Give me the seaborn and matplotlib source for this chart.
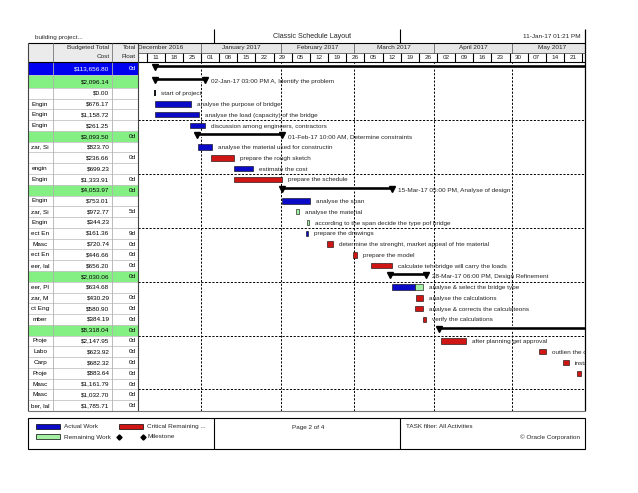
import numpy as np
import pandas as pd
import matplotlib
matplotlib.use("Agg")
import matplotlib.pyplot as plt
import matplotlib.dates as mdates
import matplotlib.transforms as mtransforms
from matplotlib.patches import Rectangle
import seaborn as sns

sns.set_theme(style="white")
plt.rcParams['font.family'] = ['Liberation Sans', 'DejaVu Sans']

# ---------------- data ----------------
resources = ["", "", "", "Engin", "Engin", "Engin", "", "zar, Si", "", "engin", "Engin", "",
             "Engin", "zar, Si", "Engin", "ect En", "Masc", "ect En", "eer, lal", "",
             "eer, Pl", "zar, M", "ct Eng", "mber", "", "Proje", "Labo", "Carp", "Proje",
             "Masc", "Masc", "ber, lal"]
costs = ["$113,656.80", "$2,096.14", "$0.00", "$676.17", "$1,158.72", "$261.25", "$3,093.50",
         "$823.70", "$236.66", "$699.23", "$1,333.91", "$4,053.97", "$753.01", "$972.77",
         "$344.23", "$161.36", "$720.74", "$446.66", "$656.20", "$2,030.06", "$634.68",
         "$430.29", "$580.90", "$384.19", "$8,318.04", "$2,147.95", "$623.92", "$682.32",
         "$883.64", "$1,161.79", "$1,032.70", "$1,785.71"]
floats = ["0d", "", "", "", "", "", "0d", "", "0d", "", "0d", "0d", "", "5d", "", "9d",
          "0d", "0d", "0d", "0d", "", "0d", "0d", "0d", "0d", "0d", "0d", "0d", "0d",
          "0d", "0d", "0d"]
kinds = ["project", "summary", "milestone", "actual", "actual", "actual", "summary", "actual",
         "critical", "actual", "critical", "summary", "actual", "remaining", "remaining",
         "actual", "critical", "critical", "critical", "summary", "actual", "critical",
         "critical", "critical", "summary", "critical", "critical", "critical", "critical",
         None, None, None]
starts = ["2016-12-14 08:00", "2016-12-14 08:00", "2016-12-14 08:00", "2016-12-14 08:00",
          "2016-12-14 08:00", "2016-12-27 18:00", "2016-12-30 12:00", "2016-12-30 20:00",
          "2017-01-04 21:00", "2017-01-13 17:00", "2017-01-13 17:00", "2017-02-01 10:00",
          "2017-02-01 10:00", "2017-02-06 14:00", "2017-02-10 21:00", "2017-02-10 12:00",
          "2017-02-18 14:00", "2017-02-28 14:00", "2017-03-07 14:00", "2017-03-14 22:00",
          "2017-03-15 17:00", "2017-03-24 22:00", "2017-03-24 12:00", "2017-03-27 16:00",
          "2017-04-02 19:00", "2017-04-03 13:00", "2017-05-11 08:00", "2017-05-20 14:00",
          "2017-05-26 00:00", None, None, None]
finishes = ["2017-06-30 17:00", "2017-01-02 15:00", "2016-12-14 08:00", "2016-12-28 03:00",
            "2016-12-31 05:00", "2017-01-02 15:00", "2017-02-01 10:00", "2017-01-05 06:00",
            "2017-01-13 17:00", "2017-01-21 01:00", "2017-02-01 10:00", "2017-03-15 17:00",
            "2017-02-12 01:00", "2017-02-07 19:00", "2017-02-11 19:00", "2017-02-11 07:00",
            "2017-02-20 22:00", "2017-03-02 05:00", "2017-03-15 17:00", "2017-03-28 18:00",
            "2017-03-27 14:00", "2017-03-27 14:00", "2017-03-27 16:00", "2017-03-28 18:00",
            "2017-06-30 17:00", "2017-04-13 05:00", "2017-05-14 01:00", "2017-05-22 22:00",
            "2017-05-27 12:00", None, None, None]
remaining_from = [None] * 20 + ["2017-03-24 12:00"] + [None] * 11
labels = ["", "02-Jan-17 03:00 PM A, Identify the problem", "start of project",
          "analyse the purpose of bridge", "analyse the load (capacity) of the bridge",
          "discussion among engineers, contractors",
          "01-Feb-17 10:00 AM, Determine constraints",
          "analyse the material used for constructin", "prepare the rough sketch",
          "estimate the cost", "prepare the schedule",
          "15-Mar-17 05:00 PM, Analyse of design", "analyse the span", "analyse the material",
          "according to the span decide the type pof bridge", "prepare the drawings",
          "determine the strenght, market appeal of hte material", "prepare the model",
          "calculate teh bridge will carry the loads",
          "28-Mar-17 06:00 PM, Design Refinement", "analyse & select the bridge type",
          "analyse the calculations", "analyse & corrects the calculateons",
          "verify the calculations", "", "after planning get approval",
          "outlien the construction", "installation", "", "", "", ""]
months = ["2016-12-01", "2017-01-01", "2017-02-01", "2017-03-01", "2017-04-01",
          "2017-05-01", "2017-06-01"]
month_labels = ["December 2016", "January 2017", "February 2017", "March 2017",
                "April 2017", "May 2017"]
weeks = pd.date_range("2016-12-04", "2017-06-04", freq="7D")
week_labels = ["4", "11", "18", "25", "01", "08", "15", "22", "29", "05", "12", "19", "26",
               "05", "12", "19", "26", "02", "09", "16", "23", "30", "07", "14", "21", "28"]

# ---------------- layout ----------------
W, H = 638, 493
FS = 4.6
fig = plt.figure(figsize=(W / 100, H / 100), dpi=100)
fig.patch.set_facecolor("white")


def px_axes(x0, y0, x1, y1, **kw):
    return fig.add_axes([x0 / W, 1 - y1 / H, (x1 - x0) / W, (y1 - y0) / H], **kw)


n = len(costs)
heights = np.array([1.2, 1.2] + [1.0] * (n - 2))
edges = np.concatenate([[0], np.cumsum(heights)])
centers = edges[:-1] + heights / 2
total = edges[-1]

BLUE_ROW = "#0000F0"
GREEN_ROW = "#84F084"
BAR_BLUE = "#0A0AC8"
BAR_RED = "#D01515"
BAR_GREEN = "#A6F0A6"

XL, XR = 138, 585
YT, YB = 62, 411

# Gantt axes
ax = px_axes(XL, YT, XR, YB)
ax.set_xlim(mdates.date2num(pd.Timestamp("2016-12-07 17:00")),
            mdates.date2num(pd.Timestamp("2017-05-29 02:00")))
ax.set_ylim(total, 0)
ax.set_xticks([]); ax.set_yticks([])
for s in ax.spines.values():
    s.set_visible(False)

dash = (0, (2.2, 1.6))
for m in months[1:-1]:
    ax.axvline(mdates.date2num(pd.Timestamp(m)), color="black", lw=0.7, ls=dash, zorder=1)
for k in range(5, n, 5):
    ax.axhline(edges[k], color="black", lw=0.7, ls=dash, zorder=1)

label_tf = mtransforms.offset_copy(ax.transData, fig=fig, x=4.2, y=0, units="points")
for i in range(n):
    k = kinds[i]
    if k is None:
        continue
    s = mdates.date2num(pd.Timestamp(starts[i]))
    f = mdates.date2num(pd.Timestamp(finishes[i]))
    yc = centers[i]
    if k in ("project", "summary"):
        ax.barh(yc - 0.22, f - s, left=s, height=0.34, color="black", zorder=3)
        ax.plot([s, f], [yc - 0.1, yc - 0.1], ls="none", marker="v", ms=3.8,
                color="black", zorder=3, clip_on=True)
    elif k == "milestone":
        ax.plot([s], [yc], marker="|", ms=4.5, mew=1.3, color="black", zorder=3)
    else:
        col = {"actual": BAR_BLUE, "critical": BAR_RED, "remaining": BAR_GREEN}[k]
        r = remaining_from[i]
        if r is not None:
            rr = mdates.date2num(pd.Timestamp(r))
            ax.barh(yc, rr - s, left=s, height=0.5, color=col, ec="black", lw=0.4, zorder=3)
            ax.barh(yc, f - rr, left=rr, height=0.5, color=BAR_GREEN, ec="black", lw=0.4,
                    zorder=3)
        else:
            ax.barh(yc, f - s, left=s, height=0.5, color=col, ec="black", lw=0.4, zorder=3)
    if labels[i]:
        ax.text(f, yc + 0.05, labels[i], transform=label_tf, fontsize=FS, ha="left",
                va="center", clip_on=True, zorder=4)

# Timescale header
axh = px_axes(XL, 43, XR, YT, sharex=ax)
axh.set_ylim(2, 0)
axh.set_xticks([]); axh.set_yticks([])
for s in axh.spines.values():
    s.set_visible(False)
mnums = [mdates.date2num(pd.Timestamp(m)) for m in months]
for j, lab in enumerate(month_labels):
    axh.add_patch(Rectangle((mnums[j], 0), mnums[j + 1] - mnums[j], 1, fc="#E6E6E6",
                            ec="none"))
    axh.text((mnums[j] + mnums[j + 1]) / 2, 0.52, lab, fontsize=FS, ha="center",
             va="center", clip_on=True)
    axh.plot([mnums[j], mnums[j]], [0, 1], color="#777777", lw=0.7)
wnums = mdates.date2num(weeks)
for j, lab in enumerate(week_labels):
    axh.plot([wnums[j], wnums[j]], [1, 2], color="black", lw=0.8)
    axh.text((wnums[j] + wnums[j + 1]) / 2, 1.52, lab, fontsize=FS, ha="center",
             va="center", clip_on=True)

# Table axes
axt = px_axes(28, YT, XL, YB)
axt.set_xlim(28, XL)
axt.set_ylim(total, 0)
axt.set_xticks([]); axt.set_yticks([])
for s in axt.spines.values():
    s.set_visible(False)
row_cols = [BLUE_ROW if k == "project" else GREEN_ROW if k == "summary" else "white"
            for k in kinds]
axt.barh(centers, XL - 28, left=28, height=heights, color=row_cols, lw=0)
axt.hlines(edges[1:-1], 28, XL, color="#C4C4C4", lw=0.6)
axt.vlines([53, 112], 0, total, color="#B0B0B0", lw=0.6)
for i in range(n):
    tc = "white" if kinds[i] == "project" else "black"
    axt.text(109.5, centers[i], costs[i], fontsize=FS, ha="right", va="center", color=tc)
    axt.text(136, centers[i], floats[i], fontsize=FS, ha="right", va="center", color=tc)
    axt.text(40, centers[i], resources[i], fontsize=FS, ha="center", va="center",
             color=tc, clip_on=True)

# Overlay: page frame, header, footer
ov = fig.add_axes([0, 0, 1, 1], zorder=10)
ov.set_xlim(0, W); ov.set_ylim(H, 0); ov.axis("off")
ov.add_patch(Rectangle((28, 43), 110, 19, fc="#EBEBEB", ec="none", zorder=0))
ov.text(109.5, 47.5, "Budgeted Total", fontsize=FS, ha="right", va="center")
ov.text(109.5, 56.5, "Cost", fontsize=FS, ha="right", va="center")
ov.text(136, 47.5, "Total", fontsize=FS, ha="right", va="center")
ov.text(136, 56.5, "Float", fontsize=FS, ha="right", va="center")
ov.text(35, 37, "building project...", fontsize=FS, ha="left", va="center")
ov.text(312, 37, "Classic Schedule Layout", fontsize=5.1, ha="center", va="center")
ov.text(581, 37, "11-Jan-17 01:21 PM", fontsize=FS, ha="right", va="center")

ov.vlines([214, 400], 29, 43, color="black", lw=0.8)
ov.vlines([585], 29, YB, color="black", lw=0.9)
ov.hlines([43, YT], 28, 585, color="black", lw=0.8)
ov.hlines([52.5], XL, 585, color="#555555", lw=0.6)
ov.vlines([28, XL], 43, YB, color="#444444", lw=0.8)
ov.vlines([53, 112], 43, YT, color="#777777", lw=0.6)
ov.hlines([YB], 28, 585, color="#777777", lw=0.8)

# footer
ov.add_patch(Rectangle((28, 418), 557, 31, fc="none", ec="black", lw=0.8))
ov.vlines([214, 400], 418, 449, color="black", lw=0.8)
ov.add_patch(Rectangle((35.5, 423.5), 24.5, 5, fc=BAR_BLUE, ec="black", lw=0.5))
ov.add_patch(Rectangle((118.5, 423.5), 24, 5, fc=BAR_RED, ec="black", lw=0.5))
ov.add_patch(Rectangle((35.5, 434), 24.5, 5, fc=BAR_GREEN, ec="black", lw=0.5))
ov.text(64.5, 426.5, "Actual Work", fontsize=FS, ha="left", va="center")
ov.text(147, 426.5, "Critical Remaining ...", fontsize=FS, ha="left", va="center")
ov.text(64.5, 437, "Remaining Work", fontsize=FS, ha="left", va="center")
ov.plot([118.8, 142.5], [437, 437], ls="none", marker="D", ms=2.6, color="black")
ov.text(147, 437, "Milestone", fontsize=FS, ha="left", va="center")
ov.text(308, 427, "Page 2 of 4", fontsize=FS, ha="center", va="center")
ov.text(406, 427, "TASK filter: All Activities", fontsize=FS, ha="left", va="center")
ov.text(580, 437, "\u00a9 Oracle Corporation", fontsize=FS, ha="right", va="center")

fig.savefig("out.png", dpi=100, facecolor="white")
